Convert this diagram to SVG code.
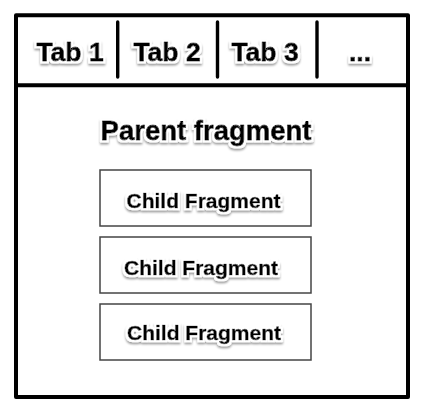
<svg xmlns="http://www.w3.org/2000/svg" width="423" height="412" viewBox="0 0 423 412">
  <defs>
    <filter id="glow" x="-10%" y="-30%" width="120%" height="170%">
      <feMorphology in="SourceAlpha" operator="dilate" radius="1.5" result="d"/>
      <feGaussianBlur in="d" stdDeviation="1.3" result="b"/>
      <feOffset in="b" dy="1.8" result="o"/>
      <feFlood flood-color="#000" flood-opacity="0.4"/>
      <feComposite in2="o" operator="in" result="sh"/>
      <feFlood flood-color="#fff"/>
      <feComposite in2="d" operator="in" result="wh"/>
      <feMerge>
        <feMergeNode in="sh"/>
        <feMergeNode in="wh"/>
        <feMergeNode in="SourceGraphic"/>
      </feMerge>
    </filter>
  </defs>
  <style>
    .t { font-family: "Liberation Sans", Arial, sans-serif; font-weight: bold; fill: #000; stroke: #000; stroke-width: 0.8; stroke-linejoin: round; text-anchor: middle; filter: url(#glow); }
    .tab { font-size: 26.5px; }
    .parent { font-size: 27.5px; }
    .child { font-size: 21px; stroke-width: 0.6; }
    .box { fill: #fff; stroke: #444; stroke-width: 1.5; }
    .div { stroke: #000; stroke-width: 3.4; stroke-linecap: round; }
  </style>
  <rect width="423" height="412" fill="#fff"/>
  <g id="parent-fragment">
    <rect x="16" y="15.3" width="392" height="381.7" fill="#fff" stroke="#000" stroke-width="4" stroke-linejoin="round"/>
    <text class="t parent" x="206" y="139.5">Parent fragment</text>
  </g>
  <g id="tab-bar">
    <line x1="16" y1="85.3" x2="408" y2="85.3" stroke="#000" stroke-width="4"/>
    <g id="tab1"><text class="t tab" x="70" y="61">Tab 1</text></g>
    <g id="tab2"><text class="t tab" x="167" y="61">Tab 2</text></g>
    <g id="tab3"><text class="t tab" x="265" y="61">Tab 3</text></g>
    <g id="tab-more"><text class="t tab" x="360" y="61">...</text></g>
  </g>
  <g id="connectors">
    <line class="div" x1="117.7" y1="22" x2="117.7" y2="77"/>
    <line class="div" x1="217.5" y1="22" x2="217.5" y2="77"/>
    <line class="div" x1="317" y1="22" x2="317" y2="77"/>
  </g>
  <g id="child1">
    <rect class="box" x="100" y="170" width="211" height="56"/>
    <text class="t child" x="203.5" y="208">Child Fragment</text>
  </g>
  <g id="child2">
    <rect class="box" x="100" y="237" width="211" height="56"/>
    <text class="t child" x="201" y="274.5">Child Fragment</text>
  </g>
  <g id="child3">
    <rect class="box" x="100" y="304" width="211" height="56"/>
    <text class="t child" x="204" y="340">Child Fragment</text>
  </g>
</svg>
